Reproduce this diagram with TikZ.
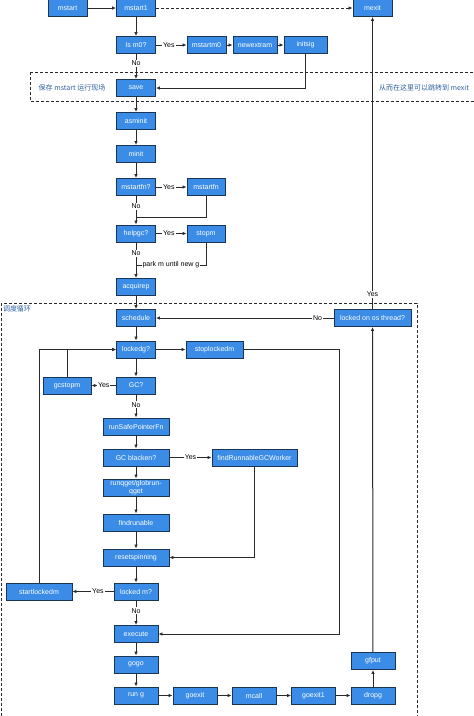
\documentclass[tikz,border=0pt]{standalone}
\usepackage{fontspec}
\setmainfont{Liberation Sans}
\newfontfamily\cjk{Noto Sans CJK SC}
\usetikzlibrary{arrows.meta}
\definecolor{boxfill}{HTML}{3A8CE7}
\definecolor{boxline}{HTML}{1A3555}
\definecolor{linecol}{HTML}{2A2A2A}
\definecolor{notecol}{HTML}{2D5F9E}
\tikzset{
  blk/.style={draw=boxline, fill=boxfill, text=white, line width=0.9pt,
    minimum height=17pt, minimum width=39pt, inner sep=1pt,
    font=\fontsize{7}{7.5}\selectfont, align=center},
  wire/.style={draw=linecol, line width=1pt, -{Latex[length=4pt,width=3.5pt]}},
  plain/.style={draw=linecol, line width=1pt},
  lbl/.style={fill=white, inner sep=1pt, font=\fontsize{7}{8}\selectfont, text=black},
  note/.style={text=notecol, font=\cjk\fontsize{7}{8}\selectfont},
  region/.style={draw=linecol, line width=0.9pt, dash pattern=on 3pt off 2pt}
}
\begin{document}
\begin{tikzpicture}[x=1pt, y=-1pt]
    \useasboundingbox (0,0) rectangle (474,716);
    \clip (0,0) rectangle (474,716);

    % dashed regions
    \draw[region] (30,72) rectangle (480,101);
    \draw[region] (1,303) rectangle (417,725);
    \node[note] (savenote) at (72,88) {保存 mstart 运行现场};
    \node[note] (jumpnote) at (424,88) {从而在这里可以跳转到 mexit};
    \node[note] (loopnote) at (17,309) {调度循环};

    % start up
    \node[blk] (mstart) at (67.5,8) {mstart};
    \node[blk] (mstart1) at (136,8) {mstart1};
    \node[blk] (mexit) at (372.5,8) {mexit};
    \node[blk] (ism0) at (136,45) {Is m0?};
    \node[blk] (mstartm0) at (206.5,45) {mstartm0};
    \node[blk, minimum width=44pt] (newextram) at (255,45) {newextram};
    \node[blk, minimum width=43pt] (initsig) at (305.5,45) {initsig};
    \node[blk] (save) at (136,88) {save};
    \node[blk] (asminit) at (136,121) {asminit};
    \node[blk] (minit) at (136,154) {minit};
    \node[blk] (mstartfnq) at (136,187) {mstartfn?};
    \node[blk, minimum width=38pt] (mstartfn) at (206,187) {mstartfn};
    \node[blk] (helpgc) at (136,233.5) {helpgc?};
    \node[blk, minimum width=38pt] (stopm) at (206,233.5) {stopm};
    \node[blk] (acquirep) at (136,287) {acquirep};

    % scheduling loop
    \node[blk] (schedule) at (136,318) {schedule};
    \node[blk, minimum width=77pt] (lockedos) at (372.5,318) {locked on os thread?};
    \node[blk] (lockedg) at (136,349.5) {lockedg?};
    \node[blk, minimum width=57pt] (stoplockedm) at (214.5,349.5) {stoplockedm};
    \node[blk, minimum width=48pt] (gcstopm) at (67,385.5) {gcstopm};
    \node[blk] (gcq) at (136,385.5) {GC?};
    \node[blk, minimum width=66pt] (safepoint) at (136,426.5) {runSafePointerFn};
    \node[blk, minimum width=66pt] (blacken) at (136,457.5) {GC blacken?};
    \node[blk, minimum width=85pt] (gcworker) at (254.5,457.5) {findRunnableGCWorker};
    \node[blk, minimum width=66pt] (runqget) at (136,487.5) {runqget/globrun-\\qget};
    \node[blk, minimum width=66pt] (findrunable) at (136,522.5) {findrunable};
    \node[blk, minimum width=66pt] (resetspin) at (136,557.5) {resetspinning};
    \node[blk, minimum width=66pt] (startlockedm) at (39,591.5) {startlockedm};
    \node[blk, minimum width=44pt] (lockedm) at (136,591.5) {locked m?};
    \node[blk, minimum width=44pt] (execute) at (136,634) {execute};
    \node[blk, minimum width=44pt] (gogo) at (136,664.5) {gogo};
    \node[blk, minimum width=44pt] (rung) at (136,695.5) {run g};
    \node[blk, minimum width=44pt] (goexit) at (195,695.5) {goexit};
    \node[blk, minimum width=44pt] (mcall) at (254,695.5) {mcall};
    \node[blk, minimum width=44pt] (goexit1) at (313.5,695.5) {goexit1};
    \node[blk, minimum width=44pt] (dropg) at (373,695.5) {dropg};
    \node[blk, minimum width=44pt] (gfput) at (373,661) {gfput};

    % start up connectors
    \draw[wire] (mstart) -- (mstart1);
    \draw[wire, dash pattern=on 3pt off 2pt] (mstart1) -- (mexit);
    \draw[wire] (mstart1) -- (ism0);
    \draw[wire] (ism0) -- node[lbl, pos=0.42] {Yes} (mstartm0);
    \draw[wire] (mstartm0) -- (newextram);
    \draw[wire] (newextram) -- (initsig);
    \draw[wire] (initsig.south) |- (save.east);
    \draw[wire] (ism0) -- node[lbl, pos=0.38] {No} (save);
    \draw[wire] (save) -- (asminit);
    \draw[wire] (asminit) -- (minit);
    \draw[wire] (minit) -- (mstartfnq);
    \draw[wire] (mstartfnq) -- node[lbl, pos=0.42] {Yes} (mstartfn);
    \draw[wire] (mstartfnq) -- node[lbl, pos=0.36] {No} (helpgc);
    \draw[plain] (mstartfn.south) |- (136,217);
    \draw[wire] (helpgc) -- node[lbl, pos=0.42] {Yes} (stopm);
    \draw[wire] (helpgc) -- node[lbl, pos=0.3] {No} (acquirep);
    \draw[plain] (stopm.south) |- node[lbl, pos=0.75] {park m until new g} (136,265);
    \draw[wire] (acquirep) -- (schedule);

    % scheduling loop connectors
    \draw[wire] (schedule) -- (lockedg);
    \draw[wire] (lockedg) -- (stoplockedm);
    \draw[wire] (lockedg) -- (gcq);
    \draw[wire] (gcq) -- node[lbl] {Yes} (gcstopm);
    \draw[wire] (gcstopm.north) |- (lockedg.west);
    \draw[wire] (startlockedm.north) |- (lockedg.west);
    \draw[wire] (gcq) -- node[lbl, pos=0.45] {No} (safepoint);
    \draw[wire] (safepoint) -- (blacken);
    \draw[wire] (blacken) -- node[lbl] {Yes} (gcworker);
    \draw[wire] (blacken) -- (runqget);
    \draw[wire] (runqget) -- (findrunable);
    \draw[wire] (findrunable) -- (resetspin);
    \draw[wire] (gcworker.south) |- (resetspin.east);
    \draw[wire] (resetspin) -- (lockedm);
    \draw[wire] (lockedm) -- node[lbl, pos=0.38] {Yes} (startlockedm);
    \draw[wire] (lockedm) -- node[lbl, pos=0.42] {No} (execute);
    \draw[wire] (stoplockedm.east) -- ++(96,0) |- (execute.east);
    \draw[wire] (execute) -- (gogo);
    \draw[wire] (gogo) -- (rung);
    \draw[wire] (rung) -- (goexit);
    \draw[wire] (goexit) -- (mcall);
    \draw[wire] (mcall) -- (goexit1);
    \draw[wire] (goexit1) -- (dropg);
    \draw[wire] (dropg) -- (gfput);
    \draw[wire] (gfput) -- (lockedos);
    \draw[wire] (lockedos) -- node[lbl, pos=0.09] {No} (schedule);
    \draw[wire] (lockedos) -- node[lbl, pos=0.05] {Yes} (mexit);
\end{tikzpicture}
\end{document}
